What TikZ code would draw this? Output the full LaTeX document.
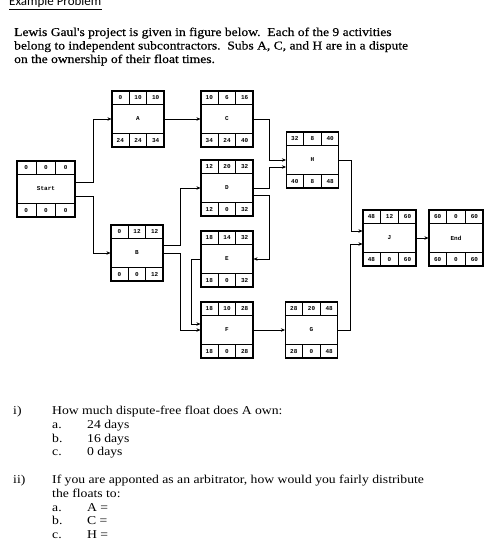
\documentclass[tikz,border=0pt]{standalone}
\usepackage{fontspec}
\setmainfont[FakeStretch=1.14]{Liberation Serif}
\newfontfamily\parafont[FakeStretch=1.13,FakeBold=0.4]{Liberation Serif}
\newfontfamily\hdrfont{Carlito}
\newfontfamily\boxfont{Liberation Mono}
\usetikzlibrary{calc,arrows.meta}
\newcommand\actcells[7]{%
  \draw[gridline] ($(#1.north west)+(0,14)$) -- ($(#1.north east)+(0,14)$)
                  ($(#1.south west)+(0,-14)$) -- ($(#1.south east)+(0,-14)$)
                  ($(#1.north west)!1/3!(#1.north east)$) -- ++(0,14)
                  ($(#1.north west)!2/3!(#1.north east)$) -- ++(0,14)
                  ($(#1.south west)!1/3!(#1.south east)$) -- ++(0,-14)
                  ($(#1.south west)!2/3!(#1.south east)$) -- ++(0,-14);
  \node[num] (#1-t1) at ($(#1.north west)!1/6!(#1.north east)+(0,7)$) {#2};
  \node[num] (#1-t2) at ($(#1.north west)!3/6!(#1.north east)+(0,7)$) {#3};
  \node[num] (#1-t3) at ($(#1.north west)!5/6!(#1.north east)+(0,7)$) {#4};
  \node[num] (#1-b1) at ($(#1.south west)!1/6!(#1.south east)+(0,-7)$) {#5};
  \node[num] (#1-b2) at ($(#1.south west)!3/6!(#1.south east)+(0,-7)$) {#6};
  \node[num] (#1-b3) at ($(#1.south west)!5/6!(#1.south east)+(0,-7)$) {#7};
}
\begin{document}
\begin{tikzpicture}[x=1pt,y=-1pt,
  act/.style={draw,line width=1.1pt,minimum width=52pt,minimum height=56pt,inner sep=0pt,
    font=\boxfont\bfseries\fontsize{6}{7}\selectfont},
  num/.style={inner sep=0pt,font=\boxfont\bfseries\fontsize{6}{7}\selectfont},
  gridline/.style={line width=1.0pt},
  conn/.style={line width=0.8pt,-{Stealth[length=4pt,width=3.5pt]}},
  txt/.style={anchor=base west,inner sep=0pt,font=\fontsize{12}{14}\selectfont},
  ptxt/.style={anchor=base west,inner sep=0pt,font=\parafont\fontsize{12}{14}\selectfont}]
\useasboundingbox (0,0) rectangle (484,553);

% header and paragraph
\node[anchor=base west,inner sep=0pt,font=\hdrfont\fontsize{13}{15}\selectfont] (hdr) at (9,6) {Example Problem};
\draw[line width=0.6pt] ($(hdr.base west)+(0,3)$) -- ($(hdr.base east)+(0,3)$);
\node[ptxt] (p1) at (14,36) {Lewis Gaul's project is given in figure below.\ \ Each of the 9 activities};
\node[ptxt] (p2) at (14,49.5) {belong to independent subcontractors.\ \ Subs A, C, and H are in a dispute};
\node[ptxt] (p3) at (14,63) {on the ownership of their float times.};

% activities
\node[act,minimum width=58pt] (start) at (46,189) {Start};
\actcells{start}{0}{0}{0}{0}{0}{0}
\node[act] (A) at (138,119) {A};
\actcells{A}{0}{10}{10}{24}{24}{34}
\node[act] (C) at (227,119) {C};
\actcells{C}{10}{6}{16}{34}{24}{40}
\node[act] (D) at (227,188) {D};
\actcells{D}{12}{20}{32}{12}{0}{32}
\node[act] (H) at (312.5,160) {H};
\actcells{H}{32}{8}{40}{40}{8}{48}
\node[act] (B) at (137,253) {B};
\actcells{B}{0}{12}{12}{0}{0}{12}
\node[act] (E) at (227,259) {E};
\actcells{E}{18}{14}{32}{18}{0}{32}
\node[act] (F) at (227,330) {F};
\actcells{F}{18}{10}{28}{18}{0}{28}
\node[act] (G) at (311.5,330) {G};
\actcells{G}{28}{20}{48}{28}{0}{48}
\node[act,minimum width=53pt] (J) at (389.5,238) {J};
\actcells{J}{48}{12}{60}{48}{0}{60}
\node[act,minimum width=54pt] (end) at (456,238) {End};
\actcells{end}{60}{0}{60}{60}{0}{60}

% connectors
\draw[conn] ([yshift=7pt]start.east) -- ++(18,0) |- (A.west);
\draw[conn] ([yshift=-7pt]start.east) -- ++(18,0) |- (B.west);
\draw[conn] (A.east) -- (C.west);
\draw[conn] ([yshift=8pt]B.east) -- ++(17,0) |- (D.west);
\draw[conn] (B.east) -- ++(17,0) |- (F.west);
\draw[conn] (E.west) -- ++(-9,0) |- ([yshift=6pt]F.west);
\draw[conn] (F.east) -- (G.west);
\draw[conn] (C.east) -- ++(16,0) |- (H.west);
\draw[conn] (D.east) -- ++(16,0) |- ([yshift=-7pt]H.west);
\draw[conn] ([yshift=-7pt]D.east) -- ++(16,0) |- (E.east);
\draw[conn] (H.east) -- ++(12,0) |- ([yshift=7pt]J.west);
\draw[conn] (G.east) -- ++(12,0) |- ([yshift=-6pt]J.west);
\draw[conn] (J.east) -- (end.west);

% questions
\node[txt] (q1n) at (13,414) {i)};
\node[txt] (q1) at (52,414) {How much dispute-free float does A own:};
\node[txt] (q1a) at (52,428) {a.};
\node[txt] (q1at) at (87,428) {24 days};
\node[txt] (q1b) at (52,442) {b.};
\node[txt] (q1bt) at (87,442) {16 days};
\node[txt] (q1c) at (52,455) {c.};
\node[txt] (q1ct) at (87,455) {0 days};
\node[txt] (q2n) at (13,483) {ii)};
\node[txt] (q2) at (52,483) {If you are apponted as an arbitrator, how would you fairly distribute};
\node[txt] (q2l) at (52,497) {the floats to:};
\node[txt] (q2a) at (52,511) {a.};
\node[txt] (q2at) at (87,511) {A =};
\node[txt] (q2b) at (52,524) {b.};
\node[txt] (q2bt) at (87,524) {C =};
\node[txt] (q2c) at (52,538) {c.};
\node[txt] (q2ct) at (87,538) {H =};
\end{tikzpicture}
\end{document}
